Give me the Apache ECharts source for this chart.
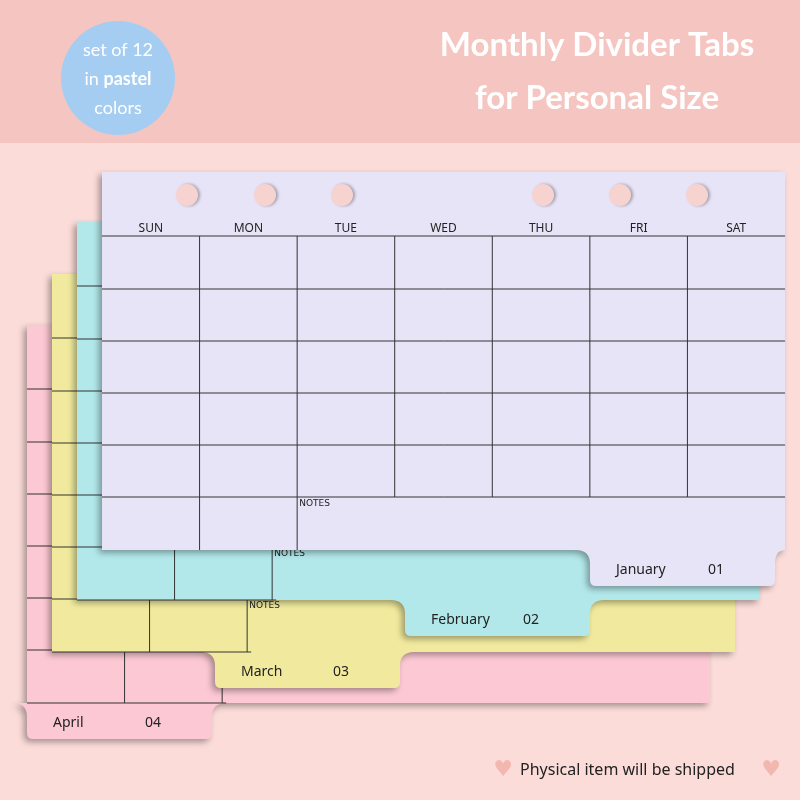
<!DOCTYPE html>
<html>
<head>
<meta charset="UTF-8">
<title>Monthly Divider Tabs</title>
<style>
  html, body { margin: 0; padding: 0; background: #fbdcd9; }
  #chart { width: 800px; height: 800px; }
</style>
<script src="https://cdn.jsdelivr.net/npm/echarts@6/dist/echarts.min.js"></script>
</head>
<body>
<div id="chart"></div>
<script>
// sheets drawn back to front
var months = ['April', 'March', 'February', 'January'];
var monthNums = ['04', '03', '02', '01'];
var sheetColors = ['#fcc8d3', '#f1ea9e', '#b3e8ea', '#e8e4f7'];
var sheetX = [27, 52, 77, 102];
var sheetY = [325, 274, 222, 172];
var tabStart = [0, 163, 328, 488];   // tab left edge, relative to sheet
var days = ['SUN', 'MON', 'TUE', 'WED', 'THU', 'FRI', 'SAT'];
var holeX = [85, 163, 240, 441, 518, 595];

var W = 683, H = 378, TAB_W = 185, TAB_D = 36, R = 14;
var COL = W / 7;
var rowY = [64, 117, 169, 221, 273, 325];

var sheetData = months.map(function (m, i) { return [sheetX[i], sheetY[i], i]; });

function sheetPath(x, y, a) {
  var b = a + TAB_W, hb = y + H, d = hb + TAB_D;
  var ax = x + a, bx = x + b;
  return 'M' + x + ' ' + y + ' L' + (x + W) + ' ' + y + ' L' + (x + W) + ' ' + hb +
    ' L' + Math.min(bx + R, x + W) + ' ' + hb +
    ' Q' + bx + ' ' + hb + ' ' + bx + ' ' + (hb + R) +
    ' L' + bx + ' ' + (d - 6) + ' Q' + bx + ' ' + d + ' ' + (bx - 6) + ' ' + d +
    ' L' + (ax + 6) + ' ' + d + ' Q' + ax + ' ' + d + ' ' + ax + ' ' + (d - 6) +
    ' L' + ax + ' ' + (hb + R) + ' Q' + ax + ' ' + hb + ' ' + (ax - R) + ' ' + hb +
    ' L' + x + ' ' + hb + ' Z';
}

function renderSheet(params, api) {
  var i = api.value(2);
  var p = api.coord([api.value(0), api.value(1)]);
  var x = p[0], y = p[1];
  var line = { stroke: '#333', lineWidth: 1 };
  var kids = [{
    type: 'path',
    shape: { pathData: sheetPath(x, y, tabStart[i]) },
    style: { fill: sheetColors[i], shadowBlur: 6, shadowColor: 'rgba(0,0,0,0.35)', shadowOffsetX: -3, shadowOffsetY: 3 }
  }];
  rowY.forEach(function (ry) {
    kids.push({ type: 'line', shape: { x1: x, y1: y + ry, x2: x + W, y2: y + ry }, style: line });
  });
  if (i < 3) {
    kids.push({ type: 'line', shape: { x1: x, y1: y + H, x2: x + 2 * COL + 4, y2: y + H }, style: line });
  }
  for (var c = 1; c < 7; c++) {
    kids.push({ type: 'line', shape: { x1: x + c * COL, y1: y + rowY[0], x2: x + c * COL, y2: y + rowY[5] }, style: line });
  }
  for (c = 1; c <= 2; c++) {
    kids.push({ type: 'line', shape: { x1: x + c * COL, y1: y + rowY[5], x2: x + c * COL, y2: y + H }, style: line });
  }
  kids.push({ type: 'text', style: { text: 'NOTES', x: x + 2 * COL + 2, y: y + rowY[5] + 2, fill: '#222', font: '9px "DejaVu Sans"' } });
  days.forEach(function (dname, k) {
    kids.push({ type: 'text', style: { text: dname, x: x + (k + 0.5) * COL, y: y + 57, align: 'center', verticalAlign: 'middle', fill: '#222', font: '12px "Noto Sans"' } });
  });
  holeX.forEach(function (hx) {
    kids.push({ type: 'circle', shape: { cx: x + hx, cy: y + 23, r: 11 },
      style: { fill: '#f7d3cf', shadowBlur: 3, shadowColor: 'rgba(0,0,0,0.3)', shadowOffsetX: 2 } });
  });
  var ty = y + H + 20;
  kids.push({ type: 'text', style: { text: months[i], x: x + tabStart[i] + 26, y: ty, verticalAlign: 'middle', fill: '#222', font: '14px "Noto Sans"' } });
  kids.push({ type: 'text', style: { text: monthNums[i], x: x + tabStart[i] + 118, y: ty, verticalAlign: 'middle', fill: '#222', font: '14px "Noto Sans"' } });
  return { type: 'group', children: kids };
}

var chart = echarts.init(document.getElementById('chart'));
chart.setOption({
  backgroundColor: '#fbdcd9',
  animation: false,
  grid: { left: 0, right: 0, top: 0, bottom: 0 },
  xAxis: { type: 'value', min: 0, max: 800, show: false },
  yAxis: { type: 'value', min: 0, max: 800, inverse: true, show: false },
  graphic: [
    { type: 'rect', z: -1, shape: { x: 0, y: 0, width: 800, height: 143 }, style: { fill: '#f5c6c1' } },
    { type: 'circle', shape: { cx: 118, cy: 78, r: 57 }, style: { fill: '#a5cdf2' } },
    { type: 'text', style: { text: 'set of 12', x: 118, y: 50, align: 'center', verticalAlign: 'middle', fill: '#fff', font: '18px Lato' } },
    { type: 'text', style: { text: '{a|in }{b|pastel}', x: 118, y: 79, align: 'center', verticalAlign: 'middle',
      rich: { a: { fill: '#fff', font: '18px Lato' }, b: { fill: '#fff', font: 'bold 18px Lato' } } } },
    { type: 'text', style: { text: 'colors', x: 118, y: 108, align: 'center', verticalAlign: 'middle', fill: '#fff', font: '18px Lato' } },
    { type: 'text', style: { text: 'Monthly Divider Tabs', x: 597, y: 45, align: 'center', verticalAlign: 'middle', fill: '#fff', font: 'bold 33px Lato' } },
    { type: 'text', style: { text: 'for Personal Size', x: 597, y: 98, align: 'center', verticalAlign: 'middle', fill: '#fff', font: 'bold 33px Lato' } },
    { type: 'text', style: { text: '\u2665', x: 503, y: 770, align: 'center', verticalAlign: 'middle', fill: '#f2b8b0', font: '22px "DejaVu Sans"' } },
    { type: 'text', style: { text: 'Physical item will be shipped', x: 520, y: 770, verticalAlign: 'middle', fill: '#222', font: '16px "Noto Sans"' } },
    { type: 'text', style: { text: '\u2665', x: 771, y: 770, align: 'center', verticalAlign: 'middle', fill: '#f2b8b0', font: '22px "DejaVu Sans"' } }
  ],
  series: [{
    type: 'custom',
    renderItem: renderSheet,
    data: sheetData,
    silent: true
  }]
});
</script>
</body>
</html>
